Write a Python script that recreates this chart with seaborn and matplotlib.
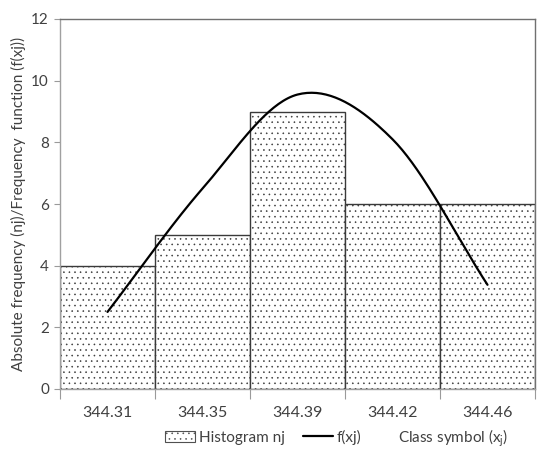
import numpy as np
import pandas as pd
import matplotlib
matplotlib.use("Agg")
import matplotlib.pyplot as plt
from matplotlib.patches import Patch
from matplotlib.lines import Line2D
import seaborn as sns

# data
classes = ["344.31", "344.35", "344.39", "344.42", "344.46"]
nj = [4, 5, 9, 6, 6]
fxj = [2.5, 6.5, 9.55, 8.1, 3.38]
y_ticks = [0, 2, 4, 6, 8, 10, 12]


def smooth(vals, n=40):
    # excel style smoothed line (catmull-rom between the points)
    p = np.array(vals, dtype=float)
    pp = np.concatenate([[2 * p[0] - p[1]], p, [2 * p[-1] - p[-2]]])
    xs, ys = [], []
    for i in range(len(p) - 1):
        p0, p1, p2, p3 = pp[i], pp[i + 1], pp[i + 2], pp[i + 3]
        m1 = (p2 - p0) / 2
        m2 = (p3 - p1) / 2
        t = np.linspace(0, 1, n, endpoint=(i == len(p) - 2))
        h00 = 2 * t**3 - 3 * t**2 + 1
        h10 = t**3 - 2 * t**2 + t
        h01 = -2 * t**3 + 3 * t**2
        h11 = t**3 - t**2
        xs.append(i + t)
        ys.append(h00 * p1 + h10 * m1 + h01 * p2 + h11 * m2)
    return np.concatenate(xs), np.concatenate(ys)


sns.set_style("white")
plt.rcParams["font.family"] = ["Lato", "DejaVu Sans"]
plt.rcParams["mathtext.fontset"] = "custom"
plt.rcParams["mathtext.rm"] = "Lato"
plt.rcParams["mathtext.it"] = "Lato"
plt.rcParams["mathtext.default"] = "regular"
plt.rcParams["hatch.linewidth"] = 0.4
plt.rcParams["hatch.color"] = "#bcbcbc"

txt = "#404040"
hatch = "..."

fig = plt.figure(figsize=(5.5, 4.57), dpi=100)
ax = fig.add_axes([60 / 550, 1 - 389 / 457, 475 / 550, 370 / 457])

df = pd.DataFrame({"cls": classes, "nj": nj})
sns.barplot(data=df, x="cls", y="nj", width=1.0, color="white",
            edgecolor="#3a3a3a", linewidth=1.0, ax=ax, zorder=2)
for b in ax.patches:
    b.set_hatch(hatch)
    b.set_edgecolor("#3a3a3a")

cx, cy = smooth(fxj)
sns.lineplot(x=cx, y=cy, color="black", linewidth=1.6, ax=ax, zorder=3,
             sort=False, estimator=None)

ax.set_xlim(-0.5, len(classes) - 0.5)
ax.set_ylim(0, 12)
ax.set_yticks(y_ticks)
ax.set_xticks(range(len(classes)))
ax.set_xticklabels(classes)
ax.set_xticks(np.arange(-0.5, len(classes), 1.0), minor=True)
ax.tick_params(axis="x", which="major", length=0, pad=12, labelsize=11.5, colors=txt)
ax.tick_params(axis="x", which="minor", length=7, width=0.8, color="#9a9a9a", direction="out")
ax.tick_params(axis="y", length=4, width=0.8, color="#9a9a9a", direction="out",
               labelsize=11, labelcolor=txt, pad=4)
ax.xaxis.set_tick_params(bottom=True, which="both")
ax.yaxis.set_tick_params(left=True)
ax.set_xlabel("")
ax.set_ylabel("Absolute frequency (nj)/Frequency  function (f(xj))", fontsize=11,
              color=txt, labelpad=4)

for s in ["left", "bottom"]:
    ax.spines[s].set_color("#a0a0a0")
    ax.spines[s].set_linewidth(1.0)
for s in ["top", "right"]:
    ax.spines[s].set_color("#707070")
    ax.spines[s].set_linewidth(1.0)

handles = [
    Patch(facecolor="white", edgecolor="#505050", hatch=hatch, linewidth=0.8),
    Line2D([0], [0], color="black", linewidth=1.6),
]
fig.legend(handles, ["Histogram nj", "f(xj)"], loc="center", ncol=2,
           bbox_to_anchor=(263 / 550, 1 - 437 / 457), frameon=False,
           fontsize=11, labelcolor=txt, handlelength=2.0, handletextpad=0.2,
           columnspacing=1.2)
fig.text(398 / 550, 1 - 438 / 457, "Class symbol (x$_{j}$)", fontsize=11,
         color=txt, ha="left", va="center")

fig.savefig("out.png", dpi=100)
